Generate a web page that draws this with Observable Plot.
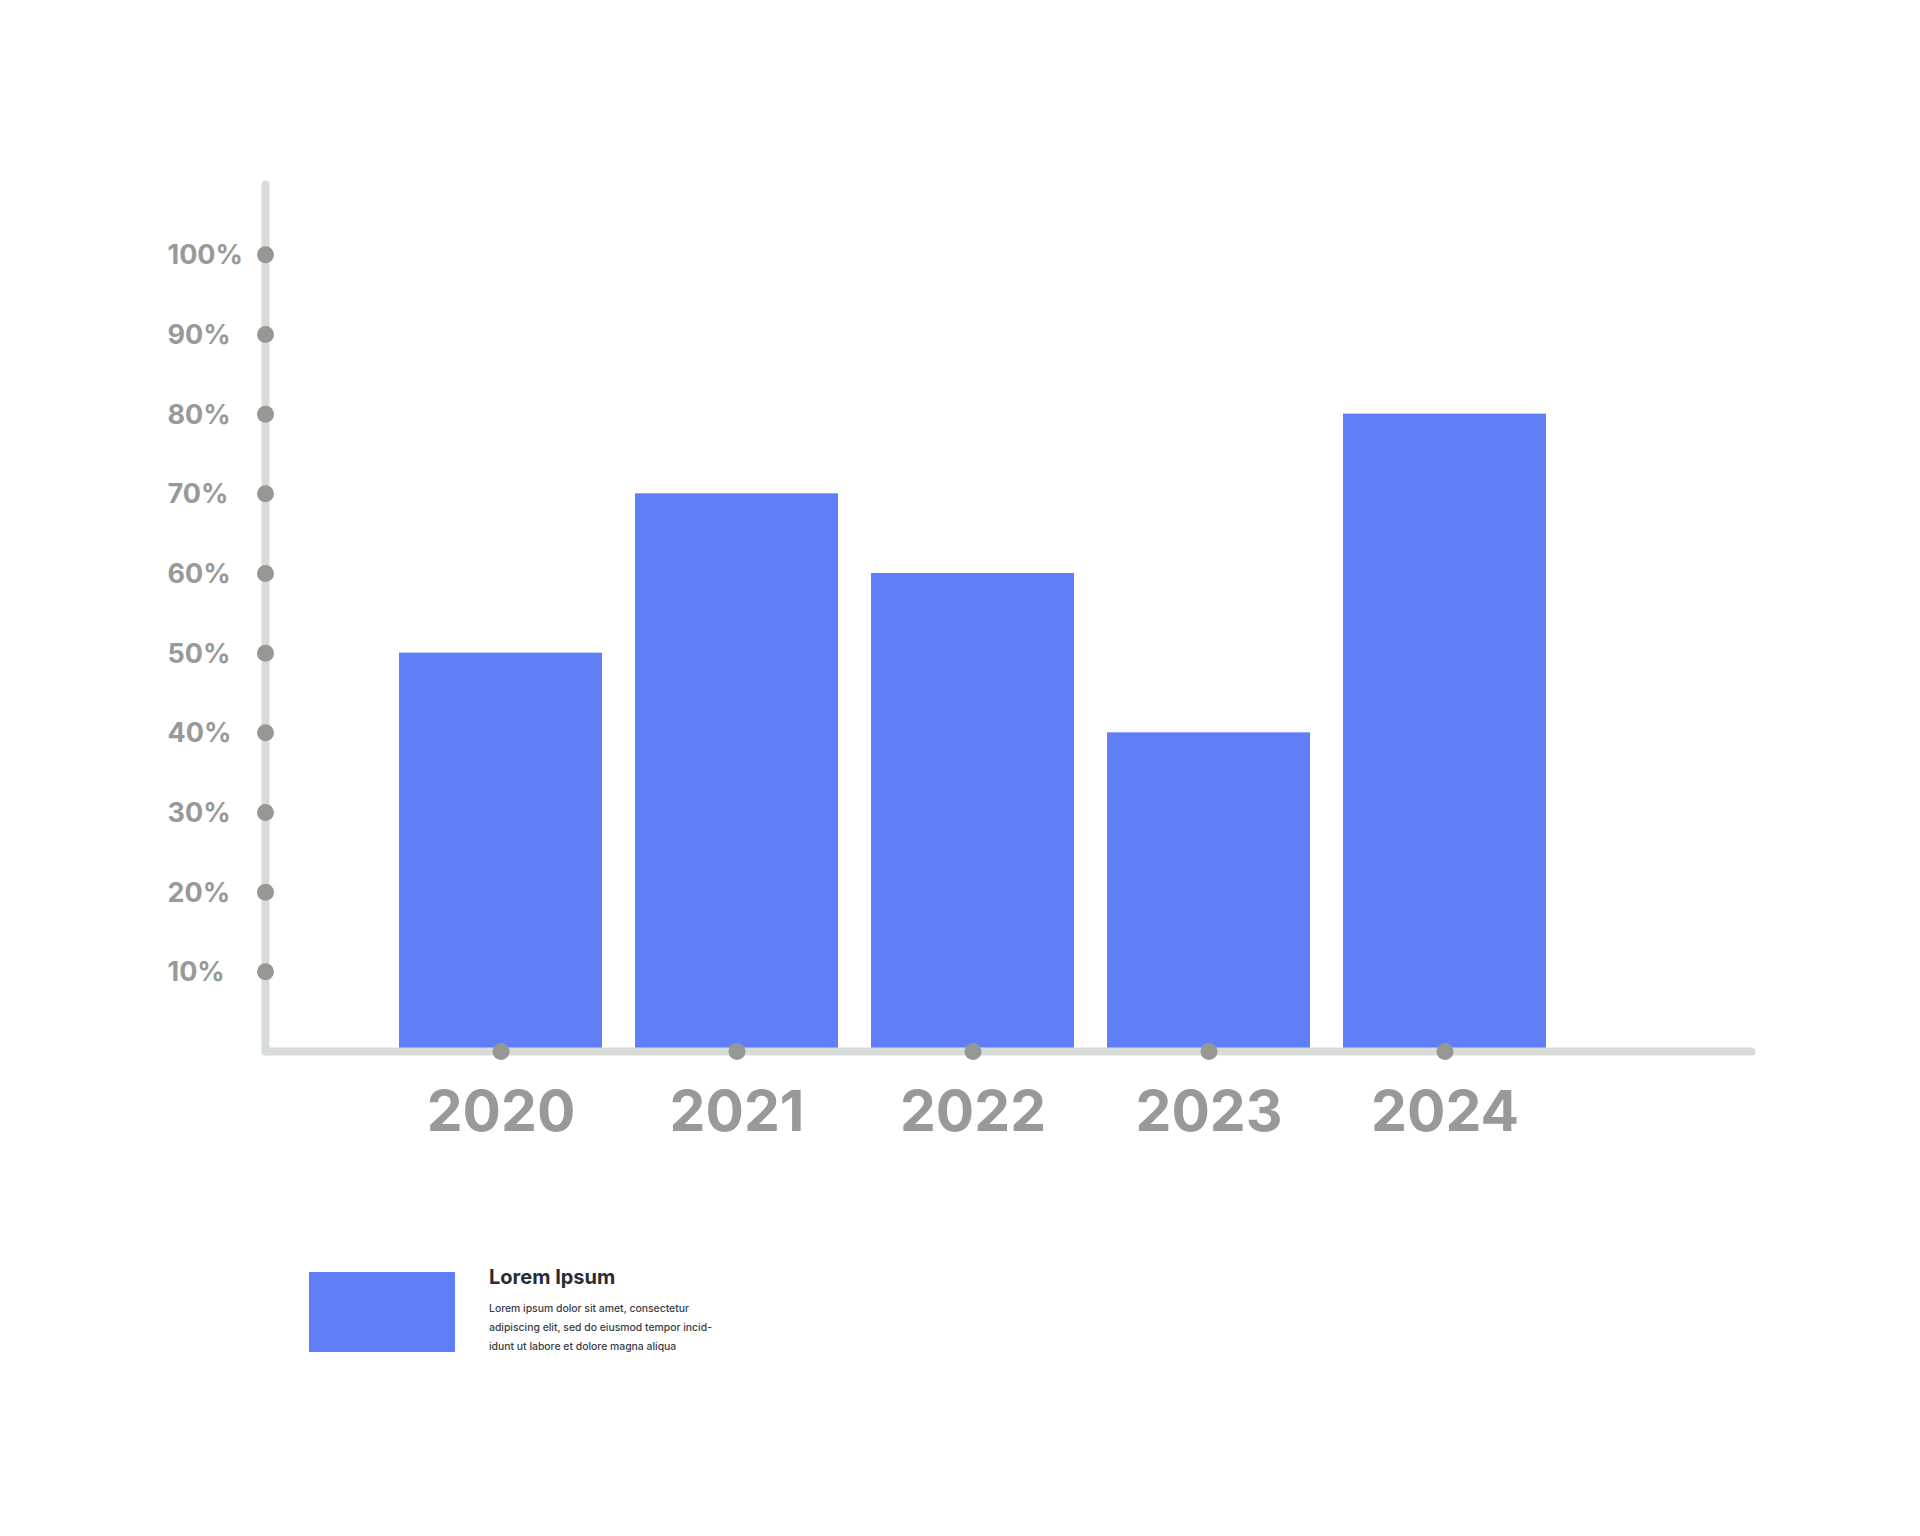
<!DOCTYPE html>
<html>
<head>
<meta charset="utf-8">
<script src="https://cdn.jsdelivr.net/npm/d3@7"></script>
<script src="https://cdn.jsdelivr.net/npm/@observablehq/plot@0.6"></script>
<style>
  html, body { margin: 0; padding: 0; background: #ffffff; }
  body { width: 1920px; height: 1536px; position: relative; font-family: Inter, "Noto Sans", sans-serif; }
  #chart { position: absolute; left: 0; top: 0; }
  .legend-swatch { position: absolute; left: 309px; top: 1272px; width: 146px; height: 80px; background: #617ef9; }
  .legend-title { position: absolute; left: 489px; top: 1264px; font-size: 20px; font-weight: 700; color: #2a2d34; line-height: 26px; }
  .legend-body { position: absolute; left: 489px; top: 1299px; font-size: 10.4px; font-weight: 500; color: #3a3d44; line-height: 19px; width: 280px; }
</style>
</head>
<body>
<div id="chart"></div>
<div class="legend-swatch"></div>
<div class="legend-title" id="ltitle"></div>
<div class="legend-body" id="lbody"></div>
<script>
const years = ["2020", "2021", "2022", "2023", "2024"];
const values = [50, 70, 60, 40, 80];
const yTicks = [10, 20, 30, 40, 50, 60, 70, 80, 90, 100];
const yTickLabels = ["10%", "20%", "30%", "40%", "50%", "60%", "70%", "80%", "90%", "100%"];
const legendTitle = "Lorem Ipsum";
const legendLines = [
  "Lorem ipsum dolor sit amet, consectetur",
  "adipiscing elit, sed do eiusmod tempor incid-",
  "idunt ut labore et dolore magna aliqua"
];

const data = years.map((year, i) => ({year, value: values[i]}));
const ticks = yTicks.map((t, i) => ({t, label: yTickLabels[i]}));

const barColor = "#617ef9";
const axisColor = "#d7dcd9";
const dotColor = "#959893";

const chart = Plot.plot({
  width: 1920,
  height: 1200,
  marginTop: 184,
  marginBottom: 149,
  marginLeft: 265,
  marginRight: 169,
  style: {fontFamily: "Inter, 'Noto Sans', sans-serif", background: "#ffffff", overflow: "visible"},
  x: {type: "band", domain: years, range: [382.6, 1562.6], paddingInner: 0.14, paddingOuter: 0.07, axis: null},
  y: {domain: [0, 100], range: [1051, 254.3], axis: null},
  marks: [
    Plot.frame({anchor: "left", stroke: axisColor, strokeWidth: 8, strokeLinecap: "round"}),
    Plot.rectY(data, {x: "year", y: "value", fill: barColor, insetLeft: 0, insetRight: 0}),
    Plot.frame({anchor: "bottom", stroke: axisColor, strokeWidth: 8, strokeLinecap: "round"}),
    Plot.dot(ticks, {y: "t", frameAnchor: "left", r: 8.5, fill: dotColor, stroke: null}),
    Plot.dot(data, {x: "year", y: () => 0, r: 8.5, fill: dotColor, stroke: null}),
    Plot.text(ticks, {y: "t", text: "label", frameAnchor: "left", dx: -98, dy: 1, textAnchor: "start", fontSize: 27, fontWeight: 700, fill: "#979a96"}),
    Plot.text(data, {x: "year", y: () => 0, text: "year", dy: 61, fontSize: 57, fontWeight: 700, fill: "#979a96"})
  ]
});
document.getElementById("chart").appendChild(chart);
document.getElementById("ltitle").textContent = legendTitle;
document.getElementById("lbody").innerHTML = legendLines.map(l => `<div>${l}</div>`).join("");
</script>
</body>
</html>
